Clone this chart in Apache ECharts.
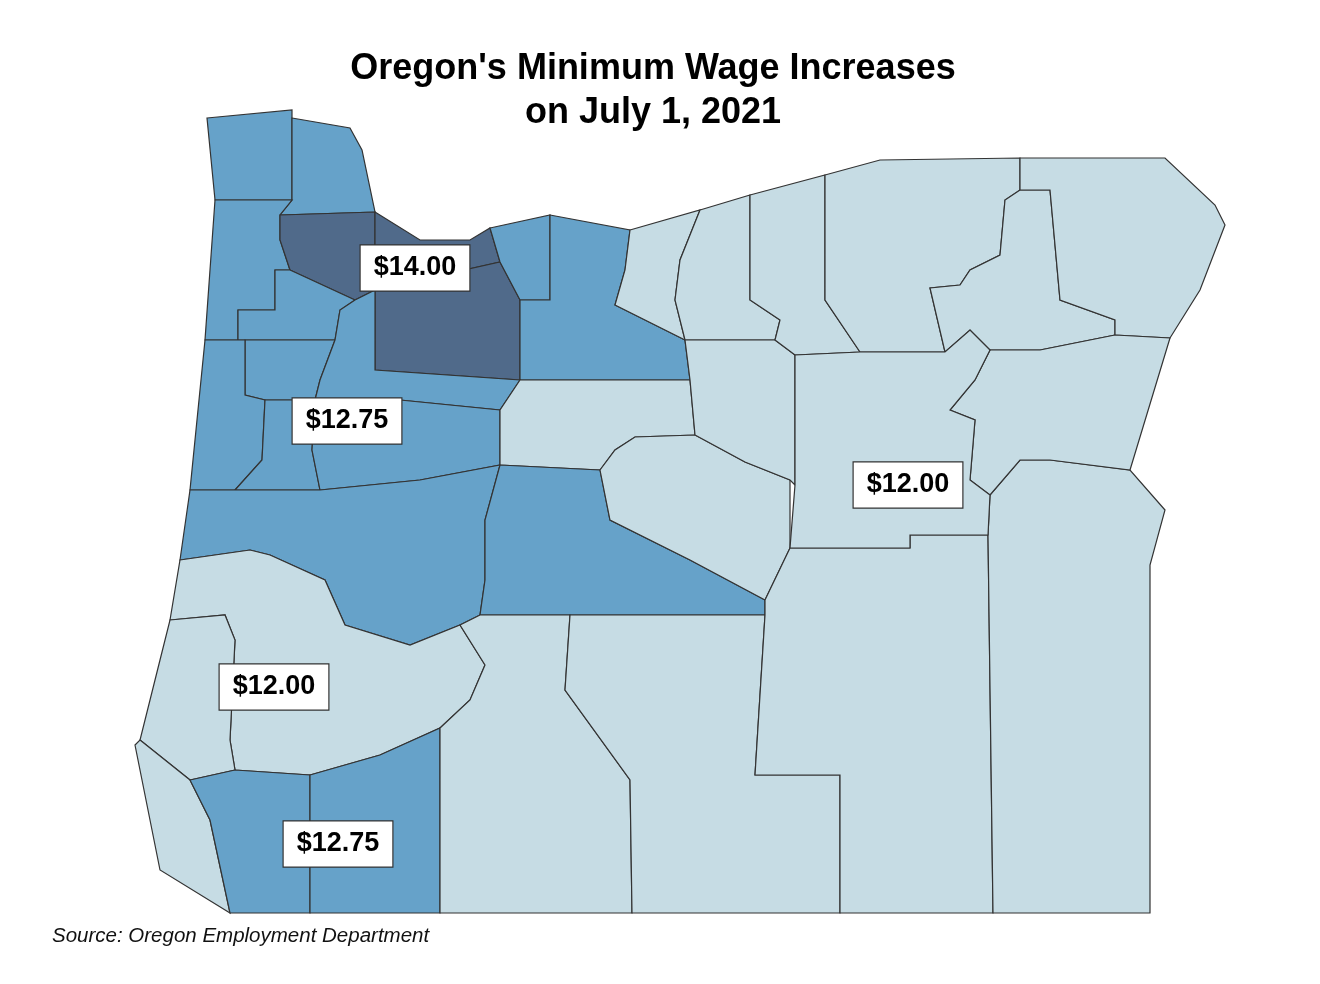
<!DOCTYPE html>
<html><head><meta charset="utf-8">
<script src="https://cdn.jsdelivr.net/npm/echarts@6/dist/echarts.min.js"></script>
<style>html,body{margin:0;background:#fff}#c{width:1320px;height:984px}</style>
</head><body><div id="c"></div>
<script>
const counties=['Clatsop','Columbia','Tillamook','Washington','Multnomah','Clackamas','Hood River','Wasco','Yamhill','Polk','Marion','Lincoln','Benton','Linn','Lane','Jefferson','Deschutes','Crook','Douglas','Coos','Curry','Josephine','Jackson','Klamath','Lake','Harney','Malheur','Sherman','Gilliam','Wheeler','Morrow','Umatilla','Union','Wallowa','Baker','Grant'];
const wages=[12.75,12.75,12.75,14,14,14,12.75,12.75,12.75,12.75,12.75,12.75,12.75,12.75,12.75,12,12.75,12,12,12,12,12.75,12.75,12,12,12,12,12,12,12,12,12,12,12,12,12];
const labelTexts=['$14.00','$12.75','$12.00','$12.00','$12.75'];
const labelAnchors=[[415,268],[347,421],[908,485],[274,687],[338,844]];
// County outlines (shape file, picture pixel space)
const shapes={
Clatsop:[[207,118],[292,110],[292,200],[215,200]],
Columbia:[[292,118],[350,128],[362,150],[375,212],[280,215],[292,200]],
Tillamook:[[215,200],[292,200],[280,215],[280,240],[290,270],[275,270],[275,310],[238,310],[238,340],[205,340]],
Washington:[[280,215],[375,212],[375,290],[355,300],[290,270],[280,240]],
Multnomah:[[375,212],[420,240],[470,240],[490,228],[500,262],[375,290]],
Clackamas:[[375,290],[500,262],[520,300],[520,380],[375,370]],
'Hood River':[[490,228],[550,215],[550,300],[520,300],[500,262]],
Wasco:[[550,215],[630,230],[625,270],[615,305],[685,340],[690,380],[520,380],[520,300],[550,300]],
Yamhill:[[275,270],[290,270],[355,300],[340,310],[335,340],[238,340],[238,310],[275,310]],
Polk:[[245,340],[335,340],[320,380],[315,400],[265,400],[245,395]],
Marion:[[355,300],[375,290],[375,370],[520,380],[500,410],[400,400],[315,400],[320,380],[335,340],[340,310]],
Lincoln:[[205,340],[245,340],[245,395],[265,400],[262,460],[235,490],[190,490]],
Benton:[[265,400],[315,400],[312,450],[320,490],[235,490],[262,460]],
Linn:[[315,400],[400,400],[500,410],[500,465],[420,480],[320,490],[312,450]],
Lane:[[190,490],[320,490],[420,480],[500,465],[485,520],[485,580],[480,615],[460,625],[410,645],[345,625],[325,580],[270,555],[250,550],[180,560]],
Jefferson:[[520,380],[690,380],[695,435],[635,437],[615,450],[600,470],[500,465],[500,410]],
Deschutes:[[500,465],[600,470],[610,520],[690,560],[765,600],[765,615],[570,615],[480,615],[485,580],[485,520]],
Crook:[[600,470],[615,450],[635,437],[695,435],[745,462],[790,480],[790,548],[765,600],[690,560],[610,520]],
Douglas:[[180,560],[250,550],[270,555],[325,580],[345,625],[410,645],[460,625],[485,665],[470,700],[440,728],[380,755],[310,775],[235,770],[230,740],[235,640],[225,615],[170,620]],
Coos:[[170,620],[225,615],[235,640],[230,740],[235,770],[190,780],[140,740],[160,660]],
Curry:[[140,740],[190,780],[210,820],[230,913],[160,870],[135,745]],
Josephine:[[190,780],[235,770],[310,775],[310,913],[230,913],[210,820]],
Jackson:[[310,775],[380,755],[440,728],[440,913],[310,913]],
Klamath:[[440,728],[470,700],[485,665],[460,625],[480,615],[570,615],[565,690],[630,780],[632,913],[440,913]],
Lake:[[570,615],[765,615],[755,775],[840,775],[840,913],[632,913],[630,780],[565,690]],
Harney:[[765,600],[790,548],[910,548],[910,535],[988,535],[993,913],[840,913],[840,775],[755,775],[765,615]],
Malheur:[[988,535],[990,495],[1020,460],[1050,460],[1130,470],[1165,510],[1150,565],[1150,913],[993,913]],
Sherman:[[630,230],[700,210],[680,260],[675,300],[685,340],[615,305],[625,270]],
Gilliam:[[700,210],[750,195],[750,300],[780,320],[775,340],[685,340],[675,300],[680,260]],
Wheeler:[[685,340],[775,340],[795,355],[795,485],[790,480],[745,462],[695,435],[690,380]],
Morrow:[[750,195],[825,175],[825,300],[860,352],[795,355],[775,340],[780,320],[750,300]],
Umatilla:[[825,175],[880,160],[1020,158],[1020,190],[1005,200],[1000,255],[970,270],[960,285],[930,288],[945,352],[860,352],[825,300]],
Union:[[1020,190],[1050,190],[1060,300],[1115,320],[1115,335],[1040,350],[990,350],[970,330],[945,352],[930,288],[960,285],[970,270],[1000,255],[1005,200]],
Wallowa:[[1020,158],[1165,158],[1215,205],[1225,225],[1200,290],[1170,338],[1115,335],[1115,320],[1060,300],[1050,190],[1020,190]],
Baker:[[1040,350],[1115,335],[1170,338],[1130,470],[1050,460],[1020,460],[990,495],[970,480],[975,420],[950,410],[975,380],[990,350]],
Grant:[[860,352],[945,352],[970,330],[990,350],[975,380],[950,410],[975,420],[970,480],[990,495],[988,535],[910,535],[910,548],[790,548],[795,485],[795,355]]
};
const flip=p=>[p[0],-p[1]];
const geo={type:'FeatureCollection',features:counties.map(n=>({type:'Feature',properties:{name:n},geometry:{type:'Polygon',coordinates:[[...shapes[n].map(flip),flip(shapes[n][0])]]}}))};
echarts.registerMap('oregon',geo);
const chart=echarts.init(document.getElementById('c'));
chart.setOption({
 backgroundColor:'#fff',
 title:{text:"Oregon's Minimum Wage Increases\non July 1, 2021",left:648,top:42,textAlign:'center',textStyle:{fontFamily:'Liberation Sans',fontSize:36,fontWeight:'bold',color:'#000',lineHeight:44}},
 graphic:[{type:'text',left:52,top:926,style:{text:'Source: Oregon Employment Department',font:'italic 20.5px "Liberation Sans"',fill:'#111'}}],
 visualMap:{show:false,type:'piecewise',seriesIndex:0,pieces:[{value:12,color:'#c6dce4'},{value:12.75,color:'#66a2c9'},{value:14,color:'#506a8a'}]},
 geo:{map:'oregon',roam:false,aspectScale:1,left:135,top:110,width:1090,height:803,silent:true,
   itemStyle:{borderColor:'#333',borderWidth:1.2},label:{show:false},emphasis:{disabled:true}},
 series:[
  {type:'map',geoIndex:0,data:counties.map((n,i)=>({name:n,value:wages[i]}))},
  {type:'scatter',coordinateSystem:'geo',symbolSize:0,silent:true,z:10,itemStyle:{opacity:1},
   data:labelAnchors.map((p,i)=>({value:flip(p),label:{formatter:labelTexts[i]}})),
   label:{show:true,position:'inside',opacity:1,backgroundColor:'#ffffff',borderColor:'#333',borderWidth:1.2,padding:[10,13,8,13],
     fontFamily:'Liberation Sans',fontSize:27,fontWeight:'bold',color:'#000'}}
 ]
});
</script></body></html>
